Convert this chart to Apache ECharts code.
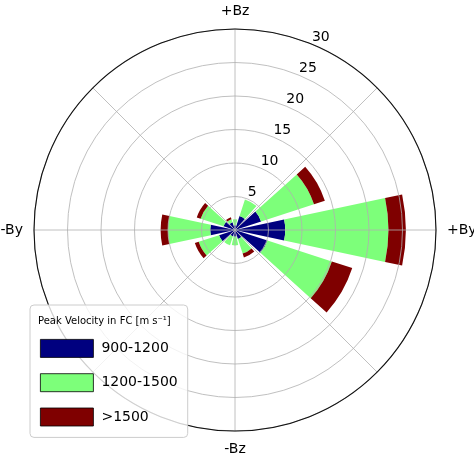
<!DOCTYPE html>
<html>
<head>
<meta charset="utf-8">
<script src="https://cdn.jsdelivr.net/npm/echarts@6/dist/echarts.min.js"></script>
<style>
html,body{margin:0;padding:0;background:#fff;}
#chart{width:474px;height:458px;}
</style>
</head>
<body>
<div id="chart"></div>
<script>
// Direction bins (math angle, degrees, counter-clockwise from +By)
const directions = ['0','30','60','90','120','150','180','210','240','270','300','330'];
// Stacked frequencies per speed class
const slow   = [7.5, 4.1, 2.2, 0.7, 1.2, 1.8, 3.7, 2.5, 1.0, 1.0, 1.4, 5.1];
const medium = [15.4, 8.3, 2.6, 0.9, 0.5, 3.6, 6.3, 3.2, 1.4, 1.3, 2.3, 10.1];
const fast   = [2.6, 1.7, 0, 0, 0.3, 0.6, 1.1, 0.6, 0, 0, 0.6, 3.2];
const seriesNames = ['900-1200', '1200-1500', '>1500'];
const seriesColors = ['#00007f', '#7dff7a', '#7f0000'];
const angleLabels = {0: '+By', 90: '+Bz', 180: '-By', 270: '-Bz'};
const radialTicks = [5, 10, 15, 20, 25, 30];
const legendTitle = 'Peak Velocity in FC [m s\u207B\u00B9]';

const chart = echarts.init(document.getElementById('chart'));
const C = [235, 230], R = 201;
const rMax = radialTicks[radialTicks.length - 1];
const rStep = radialTicks[1] - radialTicks[0];

const option = {
  animation: false,
  textStyle: {fontFamily: 'DejaVu Sans'},
  title: {
    text: legendTitle, left: 38, top: 316, padding: 0, z: 30,
    textStyle: {fontSize: 10, fontWeight: 'normal', color: '#000', fontFamily: 'DejaVu Sans'}
  },
  legend: {
    orient: 'vertical', left: 30, top: 305, z: 20,
    data: seriesNames, selectedMode: false, icon: 'rect',
    itemWidth: 53, itemHeight: 18, itemGap: 15.5,
    padding: [34, 10, 11, 10],
    backgroundColor: 'rgba(255,255,255,0.8)', borderColor: '#cccccc', borderWidth: 1, borderRadius: 4,
    itemStyle: {borderColor: '#000', borderWidth: 0.8},
    textStyle: {fontSize: 14, color: '#000', padding: [0, 0, 0, 3], fontFamily: 'DejaVu Sans'}
  },
  polar: [
    {center: C, radius: R},
    {center: C, radius: R},
    {center: C, radius: R}
  ],
  angleAxis: [
    {
      polarIndex: 0, type: 'value', min: 0, max: 360, interval: 45, startAngle: 0, clockwise: false, z: 10,
      axisLine: {lineStyle: {color: '#111', width: 1.1}},
      axisTick: {show: false},
      splitLine: {show: true, lineStyle: {color: '#b0b0b0', width: 0.8}},
      axisLabel: {
        margin: 11, fontSize: 14, color: '#000',
        formatter: v => angleLabels[v] !== undefined && v < 360 ? angleLabels[v] : ''
      }
    },
    {polarIndex: 1, type: 'value', min: 0, max: 360, startAngle: 67.5, show: false},
    {polarIndex: 2, type: 'category', data: directions, startAngle: -15, clockwise: false, show: false}
  ],
  radiusAxis: [
    {
      polarIndex: 0, min: 0, max: rMax, interval: rStep, z: 10,
      axisLine: {show: false}, axisTick: {show: false}, axisLabel: {show: false},
      splitLine: {show: true, lineStyle: {color: '#b0b0b0', width: 0.8}}
    },
    {
      polarIndex: 1, min: 0, max: rMax, interval: rStep, z: 11,
      axisLine: {show: false}, axisTick: {show: false}, splitLine: {show: false},
      axisLabel: {
        margin: 0, align: 'left', verticalAlign: 'bottom', fontSize: 14, color: '#000',
        formatter: v => radialTicks.indexOf(v) >= 0 ? String(v) : ''
      }
    },
    {polarIndex: 2, min: 0, max: rMax, show: false}
  ],
  series: [slow, medium, fast].map((d, i) => ({
    type: 'bar', name: seriesNames[i], coordinateSystem: 'polar', polarIndex: 2,
    stack: 'speed', data: d, barCategoryGap: '20%', z: 2,
    itemStyle: {color: seriesColors[i]}
  }))
};
chart.setOption(option);
</script>
</body>
</html>
